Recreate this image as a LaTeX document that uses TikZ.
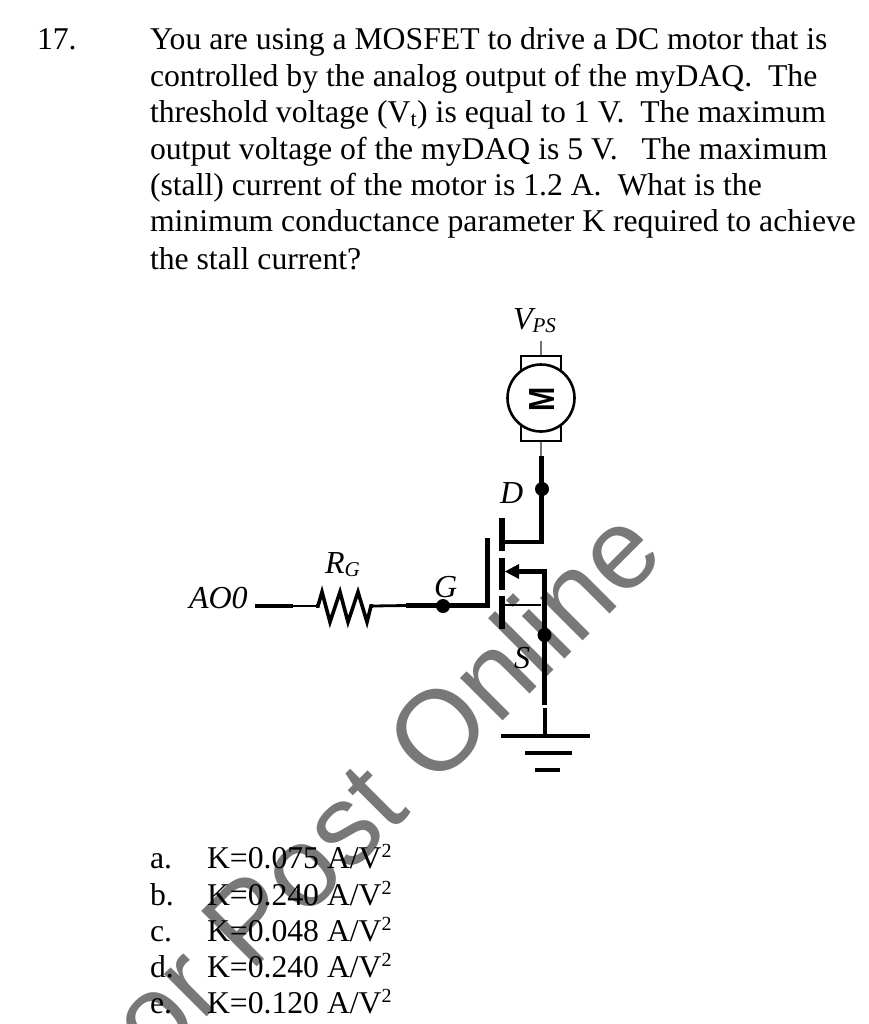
\documentclass[tikz,border=0pt]{standalone}
\usepackage{fontspec}
\setmainfont{Liberation Serif}
\newfontfamily\wmfont{Liberation Sans}
\tikzset{
  body/.style={anchor=base west,inner sep=0pt,outer sep=0pt,font=\fontsize{31.7}{36}\selectfont},
  lab/.style={anchor=base west,inner sep=0pt,outer sep=0pt,font=\fontsize{32}{36}\selectfont\itshape},
  thick wire/.style={line width=4.2pt,line cap=butt},
  mid wire/.style={line width=2.8pt,line cap=butt},
  lead/.style={line width=2.6pt,draw=black!55},
  dot/.style={circle,fill=black,inner sep=0pt,minimum size=14pt},
}
\newcommand{\subl}[1]{{\fontsize{21}{21}\selectfont #1}}
\newcommand{\supl}{\raisebox{11pt}{\fontsize{20}{20}\selectfont 2}}
\begin{document}
\begin{tikzpicture}[x=1pt,y=-1pt]
\useasboundingbox (0,0) rectangle (868,1024);
\clip (0,0) rectangle (868,1024);
% watermark
\node[rotate=45,inner sep=0pt,text=black!53,anchor=base,font=\fontsize{114}{114}\selectfont\wmfont] (wm) at (412,812) {or Post Online};
% question
\node[body] (num) at (37,50) {17.};
\node[body] (l1) at (150,50) {You are using a MOSFET to drive a DC motor that is};
\node[body] (l2) at (150,87) {controlled by the analog output of the myDAQ.\ \ The};
\node[body] (l3) at (150,123) {threshold voltage (V\textsubscript{t}) is equal to 1 V.\ \ The maximum};
\node[body] (l4) at (150,160) {output voltage of the myDAQ is 5 V.\ \ \ The maximum};
\node[body] (l5) at (150,196) {(stall) current of the motor is 1.2 A.\ \ What is the};
\node[body] (l6) at (150,232) {minimum conductance parameter K required to achieve};
\node[body] (l7) at (150,269) {the stall current?};
% motor
\coordinate (mtop) at (541,341);
\coordinate (mtopin) at (541,356);
\coordinate (mbot) at (541,441);
\coordinate (mbotout) at (541,456);
\draw[lead] (mtop) -- (mtopin);
\draw[lead] (mbot) -- (mbotout);
\draw[line width=2.6pt] (521,356) rectangle (561,441);
\node[circle,draw=black,fill=white,line width=2.6pt,minimum size=67pt,inner sep=0pt] (motor) at (541,398) {};
\node[rotate=90,inner sep=0pt,font=\fontsize{33}{33}\selectfont\wmfont\bfseries] (mlabel) at (542,399) {\scalebox{0.88}[1.1]{M}};
% drain
\coordinate (dtop) at (541.5,456);
\node[dot] (dd) at (542,489) {};
\coordinate (dcorner) at (541.5,542);
\coordinate (dch) at (502,542);
\draw[thick wire] (dtop) -- (dcorner) -- (dch);
% gate
\coordinate (ao) at (255,606);
\coordinate (r0) at (293,606);
\coordinate (r1) at (316,606);
\coordinate (r2) at (373,606);
\coordinate (g0) at (406,605.5);
\node[dot] (gd) at (443,606) {};
\coordinate (gcorner) at (487.5,605.5);
\coordinate (gtop) at (487.5,538);
\draw[line width=4.6pt] (ao) -- (r0);
\draw[mid wire] (r0) -- (r1);
\draw[line width=3.6pt,line join=miter] (r1) -- (318,606) -- (322,592) -- (330,622) -- (340,592) -- (348,622) -- (358,592) -- (367,622) -- (371,606) -- (r2);
\draw[mid wire] (r2) -- (g0);
\draw[thick wire] (g0) -- (gcorner) -- (gtop);
% channel
\coordinate (c1a) at (502,518); \coordinate (c1b) at (502,551);
\coordinate (c2a) at (502,558); \coordinate (c2b) at (502,590);
\coordinate (c3a) at (502,596); \coordinate (c3b) at (502,629);
\draw[line width=5.2pt] (c1a) -- (c1b);
\draw[line width=5.2pt] (c2a) -- (c2b);
\draw[line width=5.2pt] (c3a) -- (c3b);
% source
\coordinate (sarrow) at (505,571.5);
\coordinate (sbase) at (516,571.5);
\coordinate (scorner) at (544.5,571.5);
\coordinate (send) at (544.5,705);
\node[dot] (sd) at (544.5,635) {};
\coordinate (bulk) at (541,605);
\coordinate (bulkch) at (504,605);
\fill (sarrow) -- (519,564) -- (519,579) -- cycle;
\draw[thick wire] (sbase) -- (scorner) -- (send);
\draw[mid wire] (bulkch) -- (bulk);
% ground
\coordinate (gnd0) at (545,708);
\coordinate (gnd1) at (545,736);
\draw[line width=3.6pt] (gnd0) -- (gnd1);
\coordinate (p1a) at (501,736); \coordinate (p1b) at (590,736);
\coordinate (p2a) at (525,753); \coordinate (p2b) at (572,753);
\coordinate (p3a) at (535,770); \coordinate (p3b) at (560,770);
\draw[line width=4.6pt] (p1a) -- (p1b);
\draw[line width=4.6pt] (p2a) -- (p2b);
\draw[line width=4.6pt] (p3a) -- (p3b);
% labels
\node[lab] (vps) at (513,329) {V\raisebox{-3.5pt}{\subl{PS}}};
\node[lab] (rg) at (325,573) {R\raisebox{-3.5pt}{\subl{G}}};
\node[lab] (aoo) at (189,608) {AO0};
\node[lab] (gl) at (434,597) {G};
\node[lab] (dl) at (500,503) {D};
\node[lab] (sl) at (514,668) {S};
% options
\node[body] (oa) at (150,868) {a.};
\node[body] (ob) at (150,905) {b.};
\node[body] (oc) at (150,941) {c.};
\node[body] (od) at (150,977) {d.};
\node[body] (oe) at (150,1013) {e.};
\node[body] (ka) at (207,868) {K=0.075 A/V\supl};
\node[body] (kb) at (207,905) {K=0.240 A/V\supl};
\node[body] (kc) at (207,941) {K=0.048 A/V\supl};
\node[body] (kd) at (207,977) {K=0.240 A/V\supl};
\node[body] (ke) at (207,1013) {K=0.120 A/V\supl};
\end{tikzpicture}
\end{document}
